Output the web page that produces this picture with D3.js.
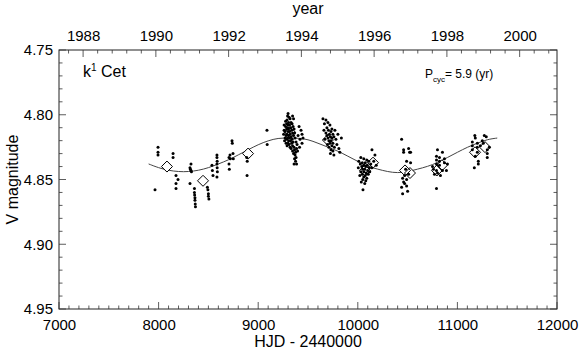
<!DOCTYPE html>
<html>
<head>
<meta charset="utf-8">
<script src="https://cdn.jsdelivr.net/npm/d3@7"></script>
<style>
  body { margin: 0; background: #fff; }
  text { font-family: "Liberation Sans", Arial, sans-serif; fill: #000; }
</style>
</head>
<body>
<svg id="chart" width="586" height="351"></svg>
<script>
// observations: [HJD - 2440000, V mag]
const observations = [
  // 1990
  [7964, 4.858], [7994, 4.825], [7994, 4.829], [7994, 4.831], [8145, 4.830], [8145, 4.833],
  [8175, 4.847], [8195, 4.850], [8175, 4.853], [8175, 4.857],
  [8325, 4.838], [8315, 4.841], [8320, 4.842], [8325, 4.843], [8330, 4.844], [8315, 4.853],
  // 1991
  [8360, 4.857], [8360, 4.860], [8362, 4.862], [8365, 4.864], [8365, 4.866], [8368, 4.869], [8370, 4.871],
  [8490, 4.856], [8495, 4.858], [8500, 4.861], [8500, 4.863], [8505, 4.865],
  [8536, 4.839], [8540, 4.843], [8546, 4.847],
  [8586, 4.831], [8586, 4.833], [8588, 4.836], [8586, 4.838], [8588, 4.841], [8590, 4.844], [8586, 4.848],
  [8707, 4.833], [8717, 4.831], [8720, 4.834], [8747, 4.830], [8750, 4.834], [8737, 4.820], [8740, 4.822],
  [8707, 4.838], [8710, 4.842],
  [8885, 4.833], [8890, 4.836], [8888, 4.847],
  [9088, 4.812], [9090, 4.823],
  // 1993-94
  [9300, 4.799], [9295, 4.801], [9310, 4.802], [9290, 4.804], [9320, 4.803], [9305, 4.806], [9285, 4.807],
  [9330, 4.806], [9300, 4.808], [9315, 4.808], [9340, 4.807], [9275, 4.809], [9295, 4.810], [9325, 4.810],
  [9350, 4.809], [9285, 4.811], [9305, 4.811], [9335, 4.812], [9360, 4.811], [9270, 4.813], [9300, 4.813],
  [9315, 4.813], [9345, 4.814], [9290, 4.815], [9320, 4.815], [9365, 4.814], [9280, 4.816], [9305, 4.816],
  [9330, 4.817], [9355, 4.816], [9295, 4.818], [9315, 4.818], [9340, 4.819], [9370, 4.818], [9285, 4.819],
  [9305, 4.820], [9325, 4.820], [9350, 4.821], [9300, 4.822], [9335, 4.822], [9380, 4.821], [9310, 4.823],
  [9345, 4.824], [9290, 4.824], [9320, 4.825], [9360, 4.825], [9330, 4.826], [9365, 4.827], [9345, 4.828],
  [9375, 4.829], [9355, 4.830], [9370, 4.831], [9380, 4.833], [9365, 4.834], [9375, 4.836], [9400, 4.816],
  [9420, 4.819], [9390, 4.823], [9260, 4.812], [9440, 4.822], [9415, 4.825],
  [9255, 4.815], [9265, 4.820], [9450, 4.818], [9430, 4.812], [9410, 4.809], [9275, 4.805], [9260, 4.808],
  [9395, 4.828], [9385, 4.826], [9280, 4.822], [9270, 4.818], [9440, 4.815], [9355, 4.803], [9345, 4.801],
  [9360, 4.838], [9385, 4.838],
  // 1994-95
  [9650, 4.803], [9680, 4.804], [9700, 4.806], [9665, 4.807], [9720, 4.808], [9690, 4.810], [9740, 4.811],
  [9660, 4.812], [9705, 4.812], [9730, 4.813], [9770, 4.812], [9680, 4.814], [9715, 4.815], [9750, 4.815],
  [9690, 4.816], [9725, 4.817], [9760, 4.817], [9700, 4.818], [9740, 4.818], [9670, 4.819], [9710, 4.820],
  [9730, 4.820], [9780, 4.819], [9720, 4.822], [9750, 4.822], [9695, 4.823], [9740, 4.824], [9710, 4.825],
  [9765, 4.825], [9730, 4.827], [9750, 4.828], [9790, 4.823], [9810, 4.826], [9820, 4.829], [9725, 4.830],
  [9760, 4.831], [9835, 4.818], [9800, 4.815],
  // 1995-96
  [10142, 4.827], [10172, 4.831], [10030, 4.833], [10060, 4.834], [10090, 4.835], [10010, 4.836],
  [10045, 4.837], [10075, 4.837], [10110, 4.836], [10025, 4.838], [10060, 4.839], [10095, 4.839],
  [10130, 4.838], [10040, 4.840], [10080, 4.840], [10115, 4.841], [10005, 4.841], [10050, 4.842],
  [10070, 4.842], [10100, 4.843], [10140, 4.841], [10030, 4.844], [10060, 4.844], [10085, 4.845],
  [10120, 4.844], [10045, 4.846], [10075, 4.847], [10105, 4.846], [10020, 4.847], [10060, 4.848],
  [10090, 4.849], [10050, 4.850], [10080, 4.851], [10035, 4.852], [10070, 4.853], [10052, 4.858],
  [10160, 4.836], [10185, 4.839],
  // 1996-97
  [10440, 4.819], [10460, 4.827], [10460, 4.829], [10510, 4.826], [10520, 4.829], [10530, 4.829],
  [10490, 4.836], [10530, 4.837], [10450, 4.849], [10490, 4.850], [10470, 4.853], [10490, 4.855],
  [10440, 4.856], [10500, 4.859], [10450, 4.861], [10470, 4.847], [10510, 4.846], [10480, 4.842],
  [10460, 4.852],
  // 1997-98
  [10800, 4.827], [10850, 4.829], [10790, 4.832], [10790, 4.835], [10790, 4.838], [10820, 4.833],
  [10820, 4.836], [10820, 4.839], [10870, 4.834], [10870, 4.837], [10760, 4.842], [10790, 4.843],
  [10850, 4.843], [10890, 4.843], [10770, 4.846], [10800, 4.845], [10830, 4.847], [10790, 4.857],
  [10900, 4.838], [10750, 4.840],
  // 1998-99
  [11175, 4.816], [11180, 4.818], [11270, 4.816], [11290, 4.817], [11150, 4.821], [11150, 4.824],
  [11150, 4.827], [11200, 4.822], [11200, 4.825], [11200, 4.829], [11250, 4.820], [11230, 4.824],
  [11300, 4.827], [11300, 4.830], [11300, 4.833], [11210, 4.836], [11210, 4.838], [11170, 4.841],
  [11260, 4.822], [11320, 4.825], [11180, 4.832]
];

// seasonal means (diamonds)
const means = [
  [8084, 4.840], [8446, 4.851], [8898, 4.830], [9319, 4.8135], [9700, 4.8195],
  [10072, 4.843], [10153, 4.837], [10474, 4.843], [10524, 4.845], [10795, 4.843],
  [10845, 4.839], [11177, 4.829], [11277, 4.825]
];

// fitted cycle curve
const curveHJD = [7900, 8000, 8100, 8200, 8300, 8400, 8500, 8600, 8700, 8800, 8900, 9000,
  9100, 9200, 9300, 9400, 9500, 9600, 9700, 9800, 9900, 10000, 10100, 10200, 10300, 10400,
  10500, 10600, 10700, 10800, 10900, 11000, 11100, 11200, 11300, 11400];
const curveMag = [4.838, 4.841, 4.843, 4.844, 4.844, 4.843, 4.841, 4.838, 4.835, 4.831, 4.827, 4.823,
  4.820, 4.818, 4.818, 4.818, 4.819, 4.822, 4.825, 4.828, 4.832, 4.836, 4.840, 4.842, 4.844, 4.845,
  4.844, 4.842, 4.840, 4.837, 4.833, 4.829, 4.825, 4.822, 4.819, 4.818];

const xTicks = [7000, 8000, 9000, 10000, 11000, 12000];
const yTicks = [4.75, 4.80, 4.85, 4.90, 4.95];
const yearTicks = [1988, 1990, 1992, 1994, 1996, 1998, 2000];

const svg = d3.select("#chart");
const mLeft = 59, mRight = 557, mTop = 50, mBottom = 309;

const x = d3.scaleLinear().domain([7000, 12000]).range([mLeft, mRight]);
const y = d3.scaleLinear().domain([4.75, 4.95]).range([mTop, mBottom]);
// calendar year scale on the top edge (year 2000 sits near HJD 11625 in the figure)
const xYear = d3.scaleLinear()
    .domain([2000 + (7000 - 11625) / 365.25, 2000 + (12000 - 11625) / 365.25])
    .range([mLeft, mRight]);

const tickColor = "#333";

// frame
svg.append("rect")
    .attr("x", mLeft).attr("y", mTop)
    .attr("width", mRight - mLeft).attr("height", mBottom - mTop)
    .attr("fill", "none").attr("stroke", "#222").attr("stroke-width", 1);

// bottom axis
const xAxis = d3.axisBottom(x).tickValues(xTicks).tickFormat(d3.format("d")).tickSize(0).tickPadding(10);
const gx = svg.append("g").attr("transform", `translate(0,${mBottom})`).call(xAxis);
gx.select(".domain").remove();
gx.selectAll("text").style("font-size", "15px");

// x ticks (inward)
const xMinor = d3.range(7000, 12001, 100);
svg.append("g").selectAll("line").data(xMinor).enter().append("line")
    .attr("x1", d => x(d)).attr("x2", d => x(d))
    .attr("y1", mBottom).attr("y2", d => mBottom - (d % 1000 === 0 ? 7 : 3.5))
    .attr("stroke", tickColor).attr("stroke-width", 0.8);

// top year axis
const yearMinor = d3.range(1987.2, 2001.3, 0.4).filter(v => xYear(v) >= mLeft && xYear(v) <= mRight);
svg.append("g").selectAll("line").data(yearMinor).enter().append("line")
    .attr("x1", d => xYear(d)).attr("x2", d => xYear(d))
    .attr("y1", mTop).attr("y2", d => mTop + (Math.abs(d / 2 - Math.round(d / 2)) < 0.01 ? 7 : 3.5))
    .attr("stroke", tickColor).attr("stroke-width", 0.8);
const topAxis = d3.axisTop(xYear).tickValues(yearTicks).tickFormat(d3.format("d")).tickSize(0).tickPadding(9);
const gt = svg.append("g").attr("transform", `translate(0,${mTop})`).call(topAxis);
gt.select(".domain").remove();
gt.selectAll("text").style("font-size", "15px");

// left axis
const yAxis = d3.axisLeft(y).tickValues(yTicks).tickFormat(d3.format(".2f")).tickSize(0).tickPadding(6);
const gy = svg.append("g").attr("transform", `translate(${mLeft},0)`).call(yAxis);
gy.select(".domain").remove();
gy.selectAll("text").style("font-size", "15px");

const yMinor = d3.range(0, 21).map(i => 4.75 + i * 0.01);
[mLeft, mRight].forEach(edge => {
  const dir = edge === mLeft ? 1 : -1;
  svg.append("g").selectAll("line").data(yMinor).enter().append("line")
      .attr("x1", edge)
      .attr("x2", (d, i) => edge + dir * (i % 5 === 0 ? 7 : 3.5))
      .attr("y1", d => y(d)).attr("y2", d => y(d))
      .attr("stroke", tickColor).attr("stroke-width", 0.8);
});

// axis titles
svg.append("text").attr("x", (mLeft + mRight) / 2).attr("y", 14)
    .attr("text-anchor", "middle").style("font-size", "16px").text("year");
svg.append("text").attr("x", (mLeft + mRight) / 2).attr("y", 347)
    .attr("text-anchor", "middle").style("font-size", "16px").text("HJD - 2440000");
svg.append("text").attr("transform", `translate(18,${(mTop + mBottom) / 2}) rotate(-90)`)
    .attr("text-anchor", "middle").style("font-size", "16px").text("V magnitude");

// fitted curve
const curveData = curveHJD.map((h, i) => [h, curveMag[i]]);
svg.append("path")
    .datum(curveData)
    .attr("d", d3.line().x(d => x(d[0])).y(d => y(d[1])).curve(d3.curveBasis))
    .attr("fill", "none").attr("stroke", "#444").attr("stroke-width", 1);

const dsz = 5.5;
const diamond = d => {
  const cx = x(d[0]), cy = y(d[1]);
  return `M${cx},${cy - dsz}L${cx + dsz},${cy}L${cx},${cy + dsz}L${cx - dsz},${cy}Z`;
};

// white backing for seasonal means
svg.append("g").selectAll("path").data(means).enter().append("path")
    .attr("d", diamond).attr("fill", "#fff").attr("stroke", "none");

// observations
svg.append("g").selectAll("circle").data(observations).enter().append("circle")
    .attr("cx", d => x(d[0])).attr("cy", d => y(d[1]))
    .attr("r", 1.5).attr("fill", "#000");

// seasonal mean outlines on top
svg.append("g").selectAll("path").data(means).enter().append("path")
    .attr("d", diamond)
    .attr("fill", "none").attr("stroke", "#000").attr("stroke-width", 1);

// labels inside plot
const star = svg.append("text").attr("x", 83).attr("y", 77).style("font-size", "16px");
star.append("tspan").text("k");
star.append("tspan").attr("dy", -6).style("font-size", "10px").text("1");
star.append("tspan").attr("dy", 6).text(" Cet");

const per = svg.append("text").attr("x", 425).attr("y", 78).style("font-size", "12px");
per.append("tspan").text("P");
per.append("tspan").attr("dy", 4).style("font-size", "8px").text("cyc");
per.append("tspan").attr("dy", -4).text("= 5.9 (yr)");
</script>
</body>
</html>
